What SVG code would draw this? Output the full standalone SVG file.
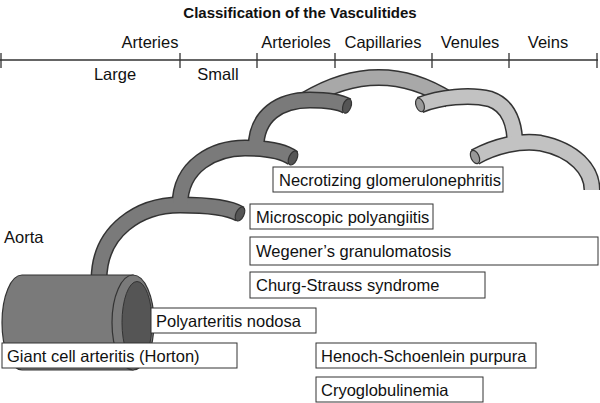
<svg xmlns="http://www.w3.org/2000/svg" width="600" height="403" viewBox="0 0 600 403">
<style>
text{font-family:"Liberation Sans",Arial,sans-serif;font-size:16.5px;fill:#111}
.b{fill:#fff;stroke:#333;stroke-width:1}
.ax{stroke:#333;stroke-width:1.3;fill:none}
.o{fill:none;stroke:#333;stroke-width:17}
.d{fill:none;stroke:#7a7a7a;stroke-width:14}
.m{fill:none;stroke:#a8a8a8;stroke-width:14}
.l{fill:none;stroke:#c2c2c2;stroke-width:14}
.cap{stroke:#333;stroke-width:1.2}
</style>
<text x="300" y="18" text-anchor="middle" style="font-weight:bold;font-size:15px">Classification of the Vasculitides</text>
<g id="axis">
<path class="ax" d="M0,60H598M1,53V68M180,53V68M257,53V68M335,53V68M432,53V68M509,53V68M597,53V68"/>
<text x="150" y="48" text-anchor="middle">Arteries</text>
<text x="296" y="48" text-anchor="middle">Arterioles</text>
<text x="383" y="48" text-anchor="middle">Capillaries</text>
<text x="470" y="48" text-anchor="middle">Venules</text>
<text x="548" y="48" text-anchor="middle">Veins</text>
<text x="115" y="80" text-anchor="middle">Large</text>
<text x="218" y="80" text-anchor="middle">Small</text>
</g>
<g id="vessels">
<path class="o" d="M305,100 Q380,55 450,100"/>
<path class="m" d="M305,100 Q380,55 450,100"/>
<path class="o" d="M420,105 C440,97 470,94 490,99 C510,106 515,125 515,146"/>
<path class="o" d="M475,157 C495,146 520,140 540,143 C575,150 592,170 592,190"/>
<path class="l" d="M420,105 C440,97 470,94 490,99 C510,106 515,125 515,146"/>
<path class="l" d="M475,157 C495,146 520,140 540,143 C575,150 592,170 592,190"/>
<ellipse class="cap" cx="420" cy="105" rx="4" ry="7" fill="#999" transform="rotate(-20 420 105)"/>
<ellipse class="cap" cx="475" cy="157" rx="4" ry="7" fill="#999" transform="rotate(-25 475 157)"/>
<path class="o" d="M99,280 C99,230 140,205 180,205 C210,205 230,208 240,214"/>
<path class="o" d="M180,205 C180,165 215,148 245,148 C270,148 285,152 293,158"/>
<path class="o" d="M256,148 C256,115 280,100 310,100 C325,100 340,102 347,106"/>
<path class="d" d="M99,280 C99,230 140,205 180,205 C210,205 230,208 240,214"/>
<path class="d" d="M180,205 C180,165 215,148 245,148 C270,148 285,152 293,158"/>
<path class="d" d="M256,148 C256,115 280,100 310,100 C325,100 340,102 347,106"/>
<ellipse class="cap" cx="240" cy="214" rx="4" ry="7.5" fill="#555" transform="rotate(25 240 214)"/>
<ellipse class="cap" cx="293" cy="158" rx="4" ry="7.5" fill="#555" transform="rotate(25 293 158)"/>
<ellipse class="cap" cx="347" cy="106" rx="4" ry="7.5" fill="#555" transform="rotate(20 347 106)"/>
</g>
<g id="aorta">
<path d="M22,275 H133 V370 H22 A20,47.5 0 0 1 22,275 Z" fill="#7a7a7a" stroke="#333" stroke-width="1.2"/>
<ellipse cx="133" cy="322.5" rx="21" ry="47.5" fill="#7a7a7a" stroke="#333" stroke-width="1.2"/>
<ellipse cx="137" cy="322.5" rx="15" ry="41" fill="#555" stroke="#333" stroke-width="1"/>
<text x="4" y="243">Aorta</text>
</g>
<g id="n1"><rect class="b" x="273" y="167" width="230" height="25"/><text x="279" y="186">Necrotizing glomerulonephritis</text></g>
<g id="n2"><rect class="b" x="250" y="204" width="183" height="25"/><text x="256" y="223">Microscopic polyangiitis</text></g>
<g id="n3"><rect class="b" x="250" y="237" width="348" height="28"/><text x="256" y="257">Wegener’s granulomatosis</text></g>
<g id="n4"><rect class="b" x="250" y="272" width="235" height="26"/><text x="256" y="291">Churg-Strauss syndrome</text></g>
<g id="n5"><rect class="b" x="151" y="308" width="165" height="25"/><text x="156" y="327">Polyarteritis nodosa</text></g>
<g id="n6"><rect class="b" x="2" y="343" width="235" height="25"/><text x="7" y="362">Giant cell arteritis (Horton)</text></g>
<g id="n7"><rect class="b" x="316" y="343" width="220" height="25"/><text x="321" y="362">Henoch-Schoenlein purpura</text></g>
<g id="n8"><rect class="b" x="316" y="377" width="167" height="25"/><text x="321" y="396">Cryoglobulinemia</text></g>
</svg>
